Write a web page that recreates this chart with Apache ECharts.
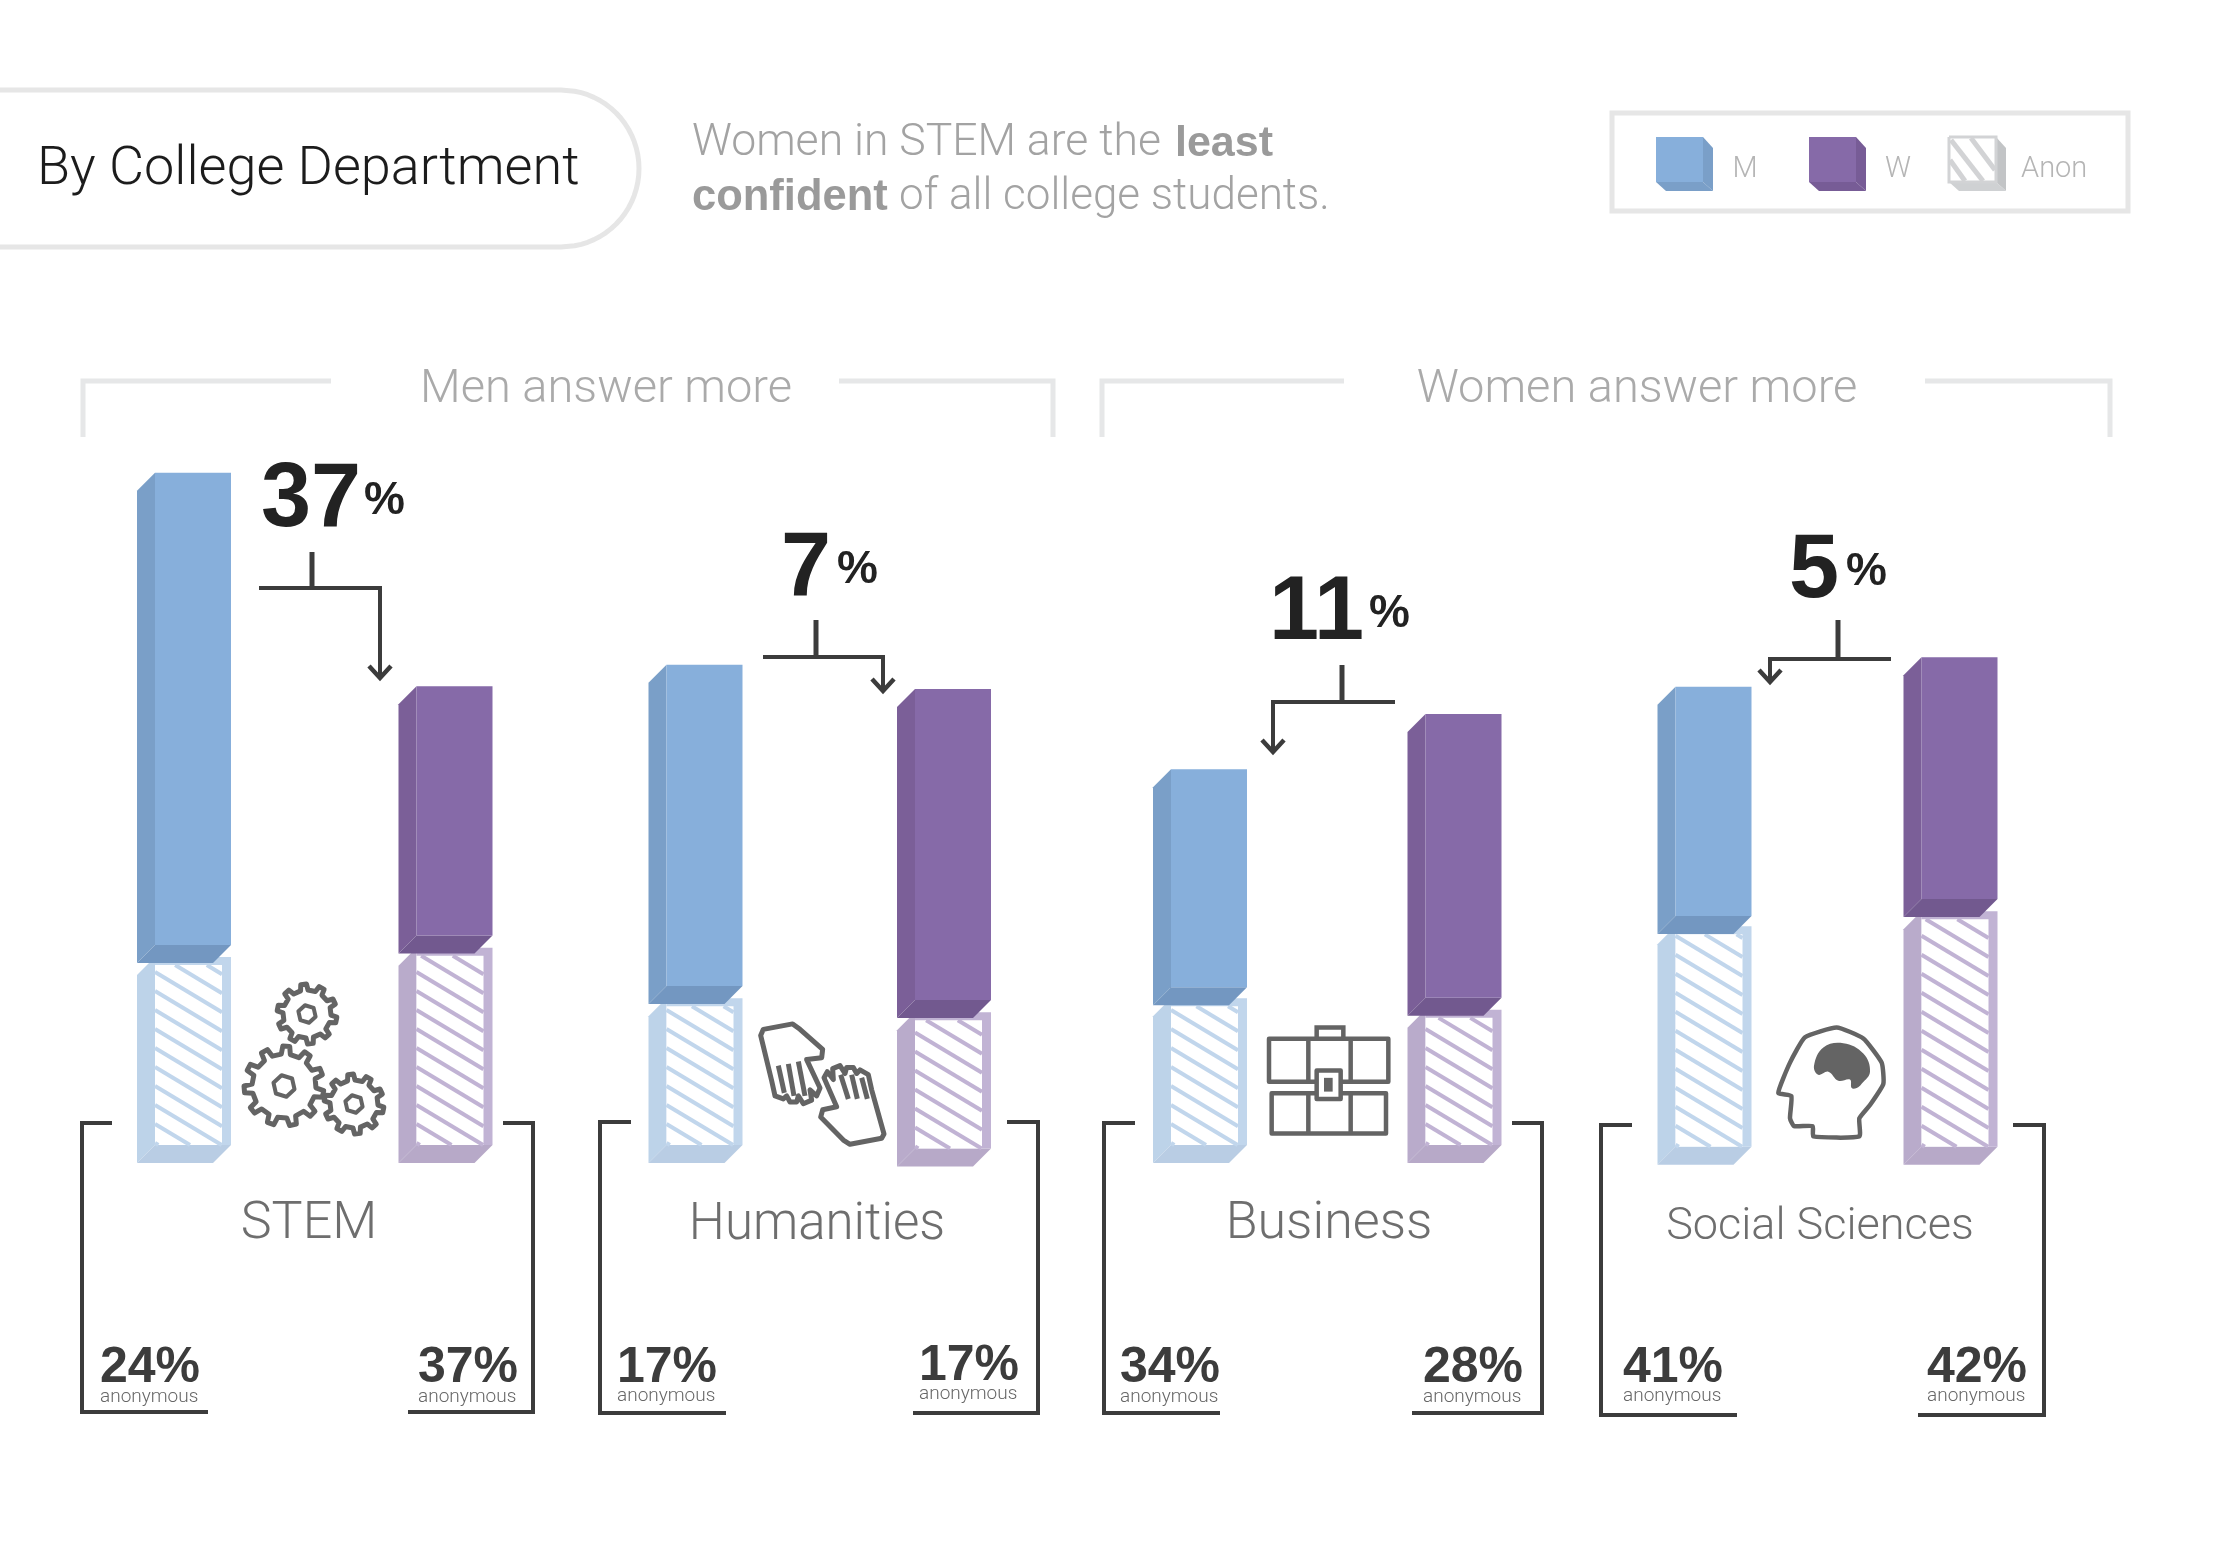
<!DOCTYPE html>
<html><head><meta charset="utf-8">
<style>html,body{margin:0;padding:0;background:#fff}#c{width:2216px;height:1546px}</style>
<script src="https://cdn.jsdelivr.net/npm/echarts@6/dist/echarts.min.js"></script>
</head><body><div id="c"></div>
<script>
const departments = ['STEM', 'Humanities', 'Business', 'Social Sciences'];
const genders = ['M', 'W'];
// bar readings, in percent-like axis units
const menBase = [0, 0, 0, -0.3];
const menAnonTop = [32.4, 25.3, 25.3, 37.7];
const menSolidBottom = [34.5, 27.4, 27.2, 39.5];
const menSolidTop = [115.9, 82.8, 64.8, 79.0];
const womenBase = [0, -0.6, 0, -0.3];
const womenAnonTop = [34.0, 22.9, 23.3, 40.3];
const womenSolidBottom = [36.1, 25.0, 25.4, 42.4];
const womenSolidTop = [79.1, 78.6, 74.3, 84.1];
const gapLabels = ['37', '7', '11', '5'];
const menAnonLabels = ['24%', '17%', '34%', '41%'];
const womenAnonLabels = ['37%', '17%', '28%', '42%'];

const FONT = 'Roboto, "Liberation Sans", sans-serif';
const BOLD = '"Liberation Sans", Arimo, sans-serif';
const els = [];
function text(x, y, t, size, fill, o) {
  o = o || {};
  els.push({type: 'text', silent: true, z: 20, style: {x, y, text: t, fill,
    font: (o.weight || 300) + ' ' + size + 'px ' + (o.family || FONT),
    textAlign: o.align || 'left', textVerticalAlign: 'middle'}});
}
function line(pts, color, w, o) {
  o = o || {};
  els.push({type: 'polyline', silent: true, z: o.z || 15, shape: {points: pts},
    style: {stroke: color, lineWidth: w, fill: null, lineJoin: o.join || 'miter', lineCap: o.cap || 'butt'}});
}
function shape(pts, fill, o) {
  o = o || {};
  els.push({type: 'polygon', silent: true, z: o.z || 15, shape: {points: pts, smooth: o.smooth || 0},
    style: {fill, stroke: o.stroke || null, lineWidth: o.w || 0, lineJoin: 'round'}});
}

/* header */
const pill = [[0, 90], [561, 90]];
for (let a = -80; a <= 80; a += 5) pill.push([561 + 78 * Math.cos(a * Math.PI / 180), 168.5 + 78.5 * Math.sin(a * Math.PI / 180)]);
pill.push([561, 247], [0, 247]);
line(pill, '#e6e6e6', 5, {join: 'round'});
text(37, 170, 'By College Department', 54, '#1c1c1c');
text(692, 144, 'Women in STEM are the', 44.5, '#a3a3a3');
text(1175, 144, 'least', 43, '#9a9a9a', {weight: 700, family: BOLD});
text(692, 198, 'confident', 43.5, '#9a9a9a', {weight: 700, family: BOLD});
text(899, 198, 'of all college students.', 44, '#a3a3a3');

/* legend */
els.push({type: 'rect', silent: true, z: 5, shape: {x: 1612, y: 113, width: 516, height: 98}, style: {fill: null, stroke: '#e6e6e6', lineWidth: 5}});
function cube(x, front, side, bottom) {
  shape([[x + 47, 137], [x + 57, 148], [x + 57, 191], [x + 47, 182]], side);
  shape([[x, 182], [x + 47, 182], [x + 57, 191], [x + 10, 191]], bottom);
  shape([[x, 137], [x + 47, 137], [x + 47, 182], [x, 182]], front);
}
cube(1656, '#87afdb', '#7a9fc8', '#7a9fc8');
cube(1809, '#866aa8', '#775c96', '#775c96');
cube(1949, '#fff', '#c2c4c6', '#cfd1d3');
line([[1949, 137], [1996, 137], [1996, 182], [1949, 182], [1949, 137]], '#d2d3d5', 3);
line([[1951, 140], [1983, 181]], '#d2d3d5', 5);
line([[1971, 138], [1995, 170]], '#d2d3d5', 5);
line([[1950, 160], [1965, 181]], '#d2d3d5', 5);
text(1745, 170, 'M', 29, '#b5b5b5', {align: 'center'});
text(1898, 170, 'W', 29, '#b5b5b5', {align: 'center'});
text(2021, 170, 'Anon', 29, '#b5b5b5');

/* top brackets */
const lightB = '#e6e7e8';
[[82, 331, 839, 1054, 'Men answer more', 606], [1101, 1344, 1925, 2111, 'Women answer more', 1637]].forEach(b => {
  line([[b[0] + 1, 437], [b[0] + 1, 381], [b[1], 381]], lightB, 5);
  line([[b[2], 381], [b[3] - 1, 381], [b[3] - 1, 437]], lightB, 5);
  text(b[5], 390, b[4], 47, '#aaaaaa', {align: 'center'});
});

/* per-department annotations */
const dark = '#3c3c3c';
const annot = [
  {num: 261, numY: 501, pct: 364, stem: 312, s0: 552, s1: 588, far: 259, drop: 380, tip: 679,
   lb: [112, 82, 1123, 1412, 208], rb: [503, 533, 1123, 1412, 408], label: 309, labelY: 1225, size: 52, ln: 100, rn: 418, nY: 1368, rnDy: 0, aY: 1397},
  {num: 781, numY: 570, pct: 837, stem: 816, s0: 620, s1: 657, far: 763, drop: 883, tip: 692,
   lb: [631, 600, 1122, 1413, 726], rb: [1007, 1038, 1122, 1413, 913], label: 817, labelY: 1226, size: 51, ln: 617, rn: 919, nY: 1368, rnDy: -2, aY: 1396},
  {num: 1269, numY: 614, pct: 1369, stem: 1342, s0: 665, s1: 702, far: 1395, drop: 1273, tip: 753,
   lb: [1135, 1104, 1123, 1413, 1220], rb: [1512, 1542, 1123, 1413, 1412], label: 1329, labelY: 1225, size: 52, ln: 1120, rn: 1423, nY: 1368, rnDy: 0, aY: 1397},
  {num: 1789, numY: 572, pct: 1846, stem: 1838, s0: 620, s1: 659, far: 1891, drop: 1770, tip: 683,
   lb: [1632, 1601, 1125, 1415, 1737], rb: [2013, 2044, 1125, 1415, 1918], label: 1820, labelY: 1228, size: 45, ln: 1623, rn: 1927, nY: 1368, rnDy: 0, aY: 1396}
];
annot.forEach((a, i) => {
  text(a.num, a.numY, gapLabels[i], 90, '#222222', {weight: 700, family: BOLD});
  text(a.pct, a.numY, '%', 46, '#222222', {weight: 700, family: BOLD});
  line([[a.stem, a.s0], [a.stem, a.s1]], dark, 5);
  line([[a.far, a.s1], [a.drop, a.s1], [a.drop, a.tip - 2]], dark, 4);
  line([[a.drop - 11, a.tip - 13], [a.drop, a.tip - 1], [a.drop + 11, a.tip - 13]], dark, 4.5);
  line([[a.lb[0], a.lb[2]], [a.lb[1], a.lb[2]], [a.lb[1], a.lb[3]], [a.lb[4], a.lb[3]]], dark, 4);
  line([[a.rb[0], a.rb[2]], [a.rb[1], a.rb[2]], [a.rb[1], a.rb[3]], [a.rb[4], a.rb[3]]], dark, 4);
  text(a.label, a.labelY, departments[i], a.size, '#6e6e6e', {align: 'center'});
  text(a.ln, a.nY, menAnonLabels[i], 50, dark, {weight: 700, family: BOLD});
  text(a.rn, a.nY + a.rnDy, womenAnonLabels[i], 50, dark, {weight: 700, family: BOLD});
  text(a.ln, a.aY, 'anonymous', 19, '#666', {});
  text(a.rn, a.aY + a.rnDy, 'anonymous', 19, '#666', {});
});

/* icons */
const iconC = '#646464';
function gear(cx, cy, R, r, teeth, hole) {
  const pts = [], n = teeth, st = 2 * Math.PI / n;
  for (let i = 0; i < n; i++) {
    const a = i * st + 0.2;
    [[-0.25, r], [-0.15, R], [0.15, R], [0.25, r]].forEach(p => pts.push([cx + p[1] * Math.cos(a + p[0] * st), cy + p[1] * Math.sin(a + p[0] * st)]));
  }
  shape(pts, 'none', {stroke: iconC, w: 5});
  const hex = [];
  for (let i = 0; i < 6; i++) hex.push([cx + hole * Math.cos(i * Math.PI / 3 + 0.3), cy + hole * Math.sin(i * Math.PI / 3 + 0.3)]);
  shape(hex, 'none', {stroke: iconC, w: 4});
}
gear(307, 1014, 30, 24, 10, 9);
gear(284, 1086, 40, 32, 11, 11);
gear(354, 1104, 30, 24, 10, 9);

const hz = (p) => p.map(q => [590 + q[0] / 3, 500 + q[1] / 1.653]);
shape(hz([[512, 885], [520, 875], [608, 866], [630, 875], [698, 908], [695, 922], [650, 925], [690, 972], [680, 985], [660, 975], [665, 992], [640, 998], [625, 985], [620, 995], [600, 995], [590, 985], [580, 990], [555, 985], [545, 960]]), 'none', {stroke: iconC, w: 5});
[[[565, 935], [583, 980]], [[595, 932], [612, 985]], [[625, 928], [645, 985]]].forEach(s => line(hz(s), iconC, 5));
shape(hz([[882, 1048], [875, 1055], [780, 1065], [760, 1058], [692, 1020], [698, 1008], [740, 1003], [702, 955], [712, 945], [730, 958], [728, 940], [750, 935], [765, 948], [770, 938], [790, 938], [800, 948], [810, 942], [835, 950], [845, 975]]), '#fff', {stroke: iconC, w: 5, z: 16});
[[[752, 950], [775, 990]], [[785, 950], [802, 990]], [[815, 955], [832, 990]]].forEach(s => { line(hz(s), iconC, 5, {z: 17}); });

const bz = (p) => p.map(q => [1090 + q[0] / 3, 540 + q[1] / 1.744]);
function zrect(f, x0, y0, x1, y1, fill, z, w) {
  shape(f([[x0, y0], [x1, y0], [x1, y1], [x0, y1]]), fill, {stroke: fill === iconC ? null : iconC, w: w === undefined ? 4.5 : w, z: z || 15});
}
zrect(bz, 537, 870, 895, 945, 'none');
zrect(bz, 545, 965, 888, 1035, 'none');
line(bz([[680, 868], [680, 850], [760, 850], [760, 868]]), iconC, 4.5);
[[655, 870, 945], [782, 870, 945], [655, 965, 1035], [782, 965, 1035]].forEach(s => line(bz([[s[0], s[1]], [s[0], s[2]]]), iconC, 4.5));
zrect(bz, 680, 925, 752, 975, '#fff', 16);
zrect(bz, 702, 938, 728, 962, iconC, 17, 0);

const sz = (p) => p.map(q => [1590 + q[0] / 3, 500 + q[1] / 1.653]);
shape(sz([[670, 1052], [668, 1035], [612, 1035], [600, 1022], [604, 985], [565, 980], [600, 930], [645, 888], [740, 872], [820, 890], [875, 930], [880, 965], [840, 1000], [808, 1022], [808, 1052]]), 'none', {stroke: iconC, w: 4.5, smooth: 0.15});
shape(sz([[672, 935], [700, 905], [760, 898], [820, 915], [840, 945], [815, 965], [800, 972], [785, 972], [780, 958], [745, 960], [715, 945], [685, 950]]), iconC, {smooth: 0.4});

/* bars */
const FW = 76, DEPTH = 18;
const palette = {
  M: {front: '#87afdb', side: '#7a9fc8', bottom: '#7397c1', aFront: '#c1d6ec', aSide: '#bdd3e9', aBottom: '#b9cde4'},
  W: {front: '#866aa8', side: '#7b5f98', bottom: '#72598f', aFront: '#c1b3d4', aSide: '#b9abcb', aBottom: '#b7a9c8'}
};
function poly(points, fill) { return {type: 'polygon', shape: {points}, style: {fill}}; }
function renderSolid(params, api) {
  const c = palette[genders[api.value(0)]];
  const top = api.coord([api.value(0), api.value(2)]);
  const bot = api.coord([api.value(0), api.value(1)]);
  const l = top[0] - FW / 2, r = top[0] + FW / 2, t = top[1], b = bot[1];
  return {type: 'group', children: [
    poly([[l - DEPTH, t + DEPTH], [l, t], [l, b], [l - DEPTH, b + DEPTH]], c.side),
    poly([[l, b], [r, b], [r - DEPTH, b + DEPTH], [l - DEPTH, b + DEPTH]], c.bottom),
    poly([[l, t], [r, t], [r, b], [l, b]], c.front)
  ]};
}
function renderAnon(params, api) {
  const c = palette[genders[api.value(0)]];
  const top = api.coord([api.value(0), api.value(2)]);
  const bot = api.coord([api.value(0), api.value(1)]);
  const l = top[0] - FW / 2, r = top[0] + FW / 2, t = top[1], b = bot[1];
  const il = l, ir = r - 9, it = t + 8, ib = b;
  const kids = [
    poly([[l - DEPTH, t + DEPTH], [l, t], [l, b], [l - DEPTH, b + DEPTH]], c.aSide),
    poly([[l, b], [r, b], [r - DEPTH, b + DEPTH], [l - DEPTH, b + DEPTH]], c.aBottom),
    poly([[l, t], [r, t], [r, b], [l, b]], c.aFront),
    poly([[il, it], [ir, it], [ir, ib], [il, ib]], '#ffffff')
  ];
  const k = 0.6, gap = 19, w = ir - il;
  for (let y0 = ib - 2; y0 > it - k * w; y0 -= gap) {
    let x1 = il, y1 = y0, x2 = ir, y2 = y0 + k * w;
    if (y1 < it) { x1 = il + (it - y0) / k; y1 = it; }
    if (y2 > ib) { x2 = il + (ib - y0) / k; y2 = ib; }
    kids.push({type: 'line', shape: {x1, y1, x2, y2}, style: {stroke: c.aFront, lineWidth: 4}});
  }
  return {type: 'group', children: kids};
}

/* one small chart per department */
const centers = [[193, 454.5], [704.5, 953], [1209, 1463.5], [1713.5, 1959.5]];
const grids = [], xAxes = [], yAxes = [], series = [];
departments.forEach((d, i) => {
  const gap = centers[i][1] - centers[i][0];
  grids.push({left: centers[i][0] - gap / 2, width: gap * 2, top: 449, height: 725});
  xAxes.push({gridIndex: i, type: 'category', data: genders, show: false});
  yAxes.push({gridIndex: i, type: 'value', min: -5, max: 120, show: false});
  series.push({type: 'custom', name: d + ' anonymous', xAxisIndex: i, yAxisIndex: i, clip: false, silent: true,
    renderItem: renderAnon, encode: {x: 0, y: [1, 2]},
    data: [[0, menBase[i], menAnonTop[i]], [1, womenBase[i], womenAnonTop[i]]]});
  series.push({type: 'custom', name: d, xAxisIndex: i, yAxisIndex: i, clip: false, silent: true,
    renderItem: renderSolid, encode: {x: 0, y: [1, 2]},
    data: [[0, menSolidBottom[i], menSolidTop[i]], [1, womenSolidBottom[i], womenSolidTop[i]]]});
});

const chart = echarts.init(document.getElementById('c'), null, {renderer: 'canvas', width: 2216, height: 1546});
chart.setOption({animation: false, backgroundColor: '#ffffff', grid: grids, xAxis: xAxes, yAxis: yAxes, series, graphic: {elements: els}});
</script></body></html>
